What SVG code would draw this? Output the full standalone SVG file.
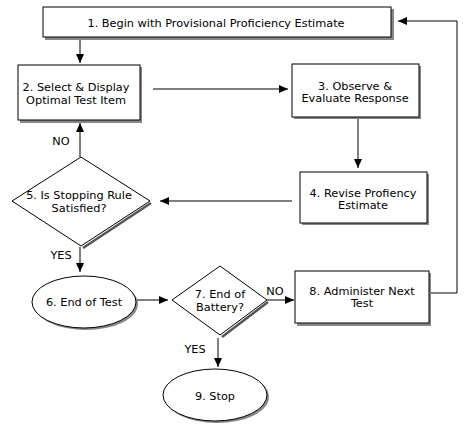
<svg xmlns="http://www.w3.org/2000/svg" width="474" height="431" viewBox="0 0 474 431">
<defs>
<style>
.box{fill:#fff;stroke:#000;stroke-width:1}
.sh{fill:#888;stroke:none}
.shl{fill:none;stroke:#555;stroke-width:2.5}
.t{font-family:"DejaVu Sans",Verdana,sans-serif;font-size:11.3px;fill:#000;text-anchor:middle}
.c{fill:none;stroke:#000;stroke-width:1}
</style>
<marker id="ah" markerWidth="10" markerHeight="10" refX="9" refY="5" orient="auto" markerUnits="userSpaceOnUse">
<path d="M0,1 L9,5 L0,9 Z" fill="#000"/>
</marker>
</defs>
<rect width="474" height="431" fill="#fff"/>
<g id="connectors">
<line class="c" x1="80" y1="37" x2="80" y2="63" marker-end="url(#ah)"/>
<line class="c" x1="153" y1="89" x2="288" y2="89" marker-end="url(#ah)"/>
<line class="c" x1="358" y1="117" x2="358" y2="168" marker-end="url(#ah)"/>
<line class="c" x1="292" y1="201" x2="160" y2="201" marker-end="url(#ah)"/>
<line class="c" x1="80" y1="157" x2="80" y2="123" marker-end="url(#ah)"/>
<line class="c" x1="80" y1="247" x2="80" y2="272" marker-end="url(#ah)"/>
<line class="c" x1="137" y1="300" x2="168" y2="300" marker-end="url(#ah)"/>
<line class="c" x1="267" y1="300" x2="294" y2="300" marker-end="url(#ah)"/>
<line class="c" x1="218" y1="338" x2="218" y2="367" marker-end="url(#ah)"/>
<polyline class="c" points="430,293 457,293 457,21 398,21" marker-end="url(#ah)"/>
<text class="t" x="61" y="145">NO</text>
<text class="t" x="61" y="259">YES</text>
<text class="t" x="275" y="295">NO</text>
<text class="t" x="195" y="353">YES</text>
</g>
<g id="n1">
<rect class="sh" x="45" y="9" width="349" height="31"/>
<rect class="box" x="43" y="7" width="348" height="30"/>
<text class="t" x="216" y="27">1. Begin with Provisional Proficiency Estimate</text>
</g>
<g id="n2">
<rect class="sh" x="20" y="67" width="122" height="56"/>
<rect class="box" x="18" y="65" width="122" height="55"/>
<text class="t" x="76" y="91">2. Select &amp; Display</text>
<text class="t" x="76" y="104">Optimal Test Item</text>
</g>
<g id="n3">
<rect class="sh" x="294" y="66" width="127" height="53"/>
<rect class="box" x="292" y="64" width="127" height="53"/>
<text class="t" x="355" y="90">3. Observe &amp;</text>
<text class="t" x="355" y="102">Evaluate Response</text>
</g>
<g id="n4">
<rect class="sh" x="302" y="174" width="127" height="51"/>
<rect class="box" x="300" y="172" width="127" height="51"/>
<text class="t" x="363" y="197">4. Revise Profiency</text>
<text class="t" x="363" y="209">Estimate</text>
</g>
<g id="n5">
<polyline class="shl" points="151,203 83,248"/>
<polygon class="box" points="81,157 150,201 81,246 12,201"/>
<text class="t" x="79" y="199">5. Is Stopping Rule</text>
<text class="t" x="79" y="212">Satisfied?</text>
</g>
<g id="n6">
<ellipse class="sh" cx="86" cy="304" rx="52" ry="26"/>
<ellipse class="box" cx="84" cy="302" rx="52" ry="26"/>
<text class="t" x="84" y="306">6. End of Test</text>
</g>
<g id="n7">
<polyline class="shl" points="268,302 222,337"/>
<polygon class="box" points="220,266 267,300 220,335 172,300"/>
<text class="t" x="220" y="298">7. End of</text>
<text class="t" x="220" y="311">Battery?</text>
</g>
<g id="n8">
<rect class="sh" x="297" y="273" width="134" height="53"/>
<rect class="box" x="295" y="271" width="134" height="52"/>
<text class="t" x="362" y="295">8. Administer Next</text>
<text class="t" x="362" y="307">Test</text>
</g>
<g id="n9">
<ellipse class="sh" cx="217" cy="397" rx="52" ry="26"/>
<ellipse class="box" cx="215" cy="395" rx="52" ry="26"/>
<text class="t" x="215" y="400">9. Stop</text>
</g>
</svg>
